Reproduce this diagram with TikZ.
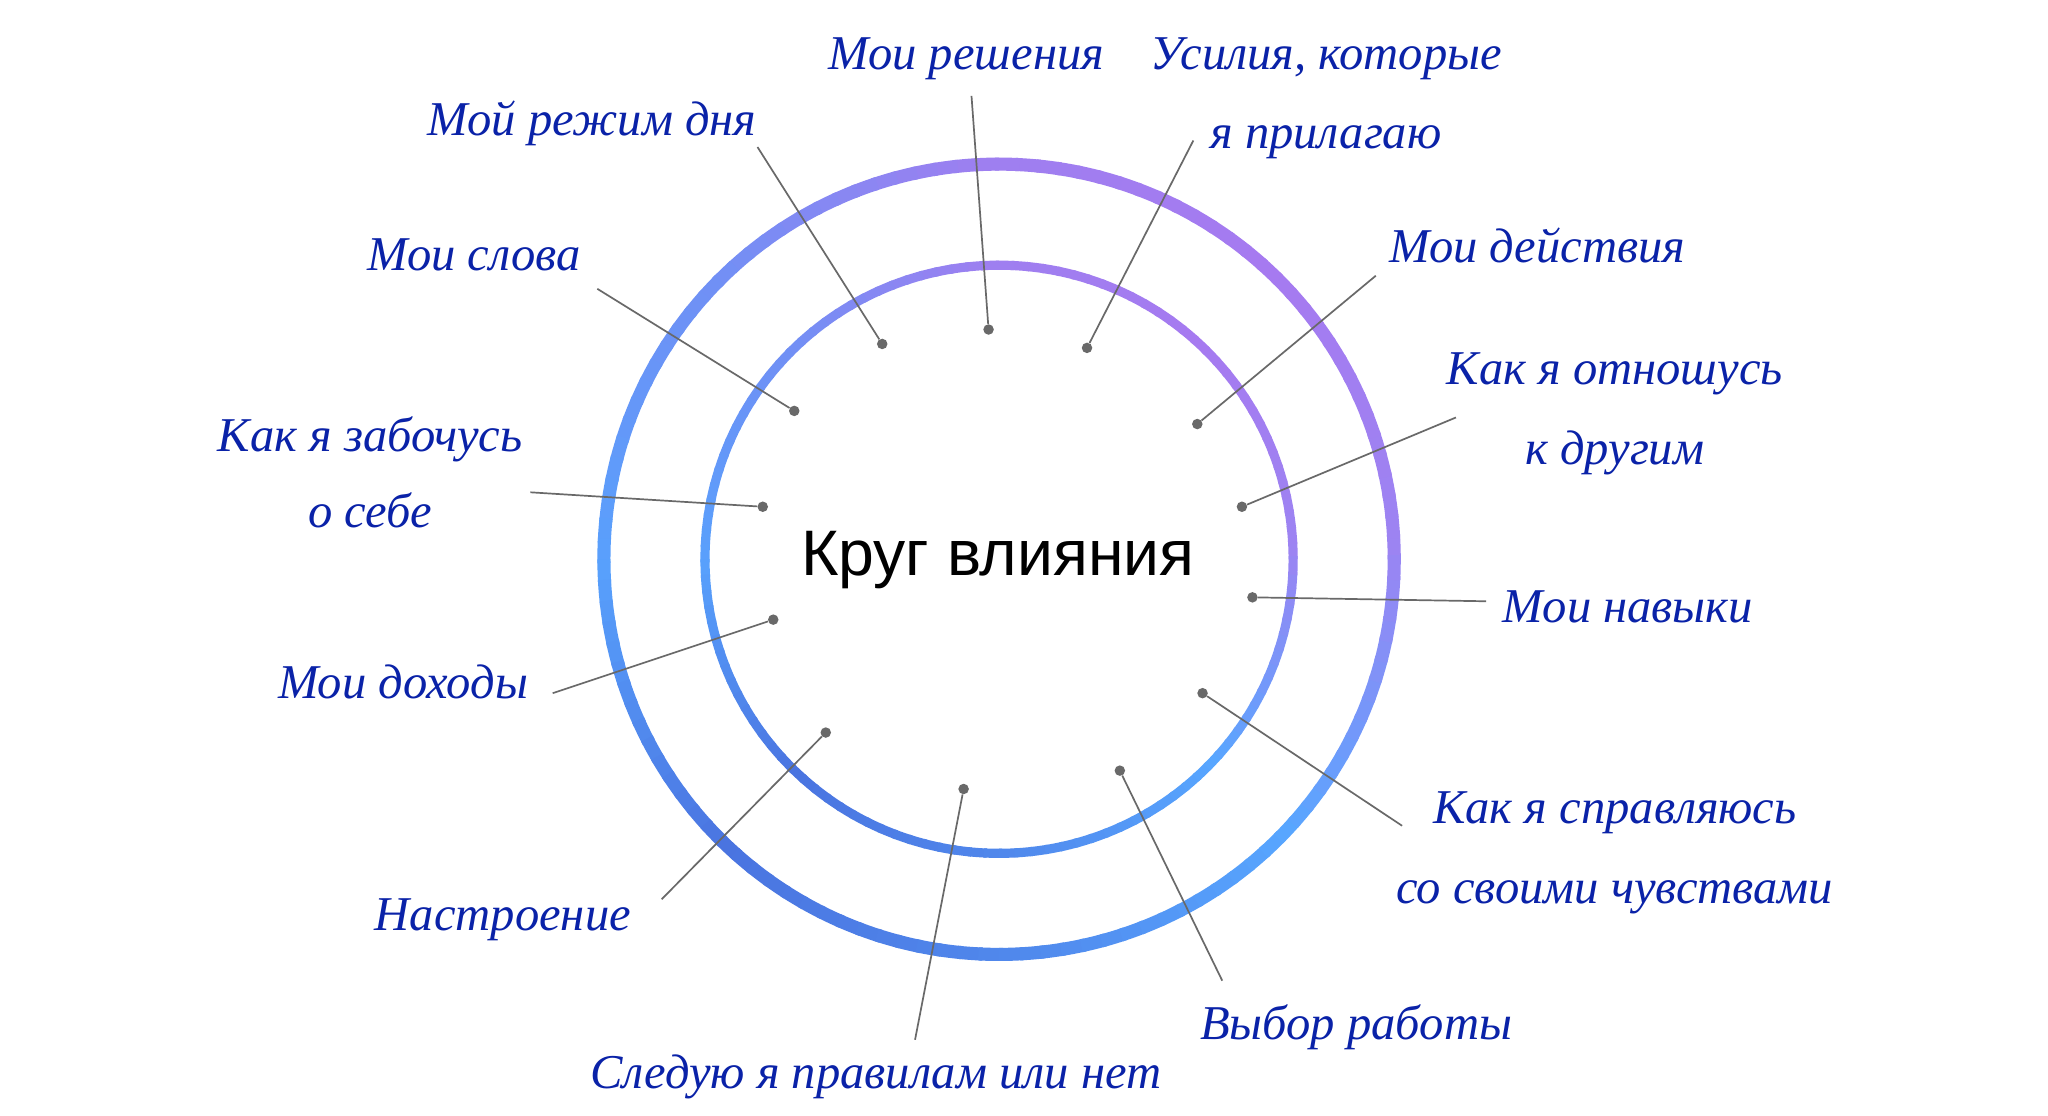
\documentclass[tikz,border=0pt]{standalone}
\usepackage{fontspec}
\newfontfamily\handfont{Liberation Serif}
\newfontfamily\titlefont{Liberation Sans}
\definecolor{lblc}{RGB}{10,34,168}
\definecolor{conn}{RGB}{105,105,105}
\definecolor{c0}{RGB}{156,132,242}
\definecolor{c45}{RGB}{166,122,240}
\definecolor{c90}{RGB}{158,127,240}
\definecolor{c135}{RGB}{112,144,245}
\definecolor{c180}{RGB}{88,160,252}
\definecolor{c225}{RGB}{74,116,224}
\definecolor{c270}{RGB}{80,136,236}
\definecolor{c315}{RGB}{88,166,255}
\tikzset{
  lbl/.style={font=\handfont\itshape\fontsize{37}{40}\selectfont, text=lblc, inner sep=0pt, anchor=base},
  connline/.style={draw=conn, line width=1.3pt},
  dotnode/.style={circle, fill=conn, inner sep=0pt, minimum size=8pt},
}
\begin{document}
\begin{tikzpicture}[x=1pt,y=-1pt]
\useasboundingbox (0,0) rectangle (1560,850);
\fill[white] (0,0) rectangle (1560,850);
\coordinate (C) at (761,426);
% gradient rings
\foreach \pa/\ca/\cb in {0/c0/c45,45/c45/c90,90/c90/c135,135/c135/c180,180/c180/c225,225/c225/c270,270/c270/c315,315/c315/c0}{
  \foreach \k in {0,...,14}{
    \pgfmathtruncatemacro\mixp{\k*100/15}
    \pgfmathsetmacro\ang{\pa+\k*3}
    \draw[line width=10pt, draw=\cb!\mixp!\ca] (C) ++({-\ang}:301) arc[start angle={-\ang}, end angle={-\ang-3.6}, radius=301];
    \draw[line width=7pt, draw=\cb!\mixp!\ca] (C) ++({-\ang}:224) arc[start angle={-\ang}, end angle={-\ang-3.6}, radius=224];
  }
}
\node[font=\titlefont\fontsize{49}{52}\selectfont, inner sep=0pt, anchor=base] (title) at (760,438) {Круг влияния};
% labels
\node[lbl] (t1) at (736,53) {Мои решения};
\node[lbl] (t2a) at (1010,53) {Усилия, которые};
\node[lbl] (t2b) at (1010,113) {я прилагаю};
\node[lbl] (t3) at (451,103) {Мой режим дня};
\node[lbl] (t4) at (361,206) {Мои слова};
\node[lbl] (t5a) at (282,344) {Как я забочусь};
\node[lbl] (t5b) at (282,402) {о себе};
\node[lbl] (t6) at (307,532) {Мои доходы};
\node[lbl] (t7) at (383,709) {Настроение};
\node[lbl] (t8) at (667,829) {Следую я правилам или нет};
\node[lbl] (t9) at (1033,792) {Выбор работы};
\node[lbl] (t10a) at (1230,627) {Как я справляюсь};
\node[lbl] (t10b) at (1230,688) {со своими чувствами};
\node[lbl] (t11) at (1240,474) {Мои навыки};
\node[lbl] (t12a) at (1230,293) {Как я отношусь};
\node[lbl] (t12b) at (1230,354) {к другим};
\node[lbl] (t13) at (1171,200) {Мои действия};
% connector ends
\coordinate (e1) at (740,73);
\coordinate (e2) at (909,107);
\coordinate (e3) at (577,112);
\coordinate (e4) at (455,220);
\coordinate (e5) at (404,375);
\coordinate (e6) at (421,528);
\coordinate (e7) at (504,685);
\coordinate (e8) at (697,792);
\coordinate (e9) at (931,747);
\coordinate (e10) at (1068,629);
\coordinate (e11) at (1132,458);
\coordinate (e12) at (1109,318);
\coordinate (e13) at (1048,210);
% dots
\node[dotnode] (d1) at (753,251) {};
\node[dotnode] (d2) at (828,265) {};
\node[dotnode] (d3) at (672,262) {};
\node[dotnode] (d4) at (605,313) {};
\node[dotnode] (d5) at (581,386) {};
\node[dotnode] (d6) at (589,472) {};
\node[dotnode] (d7) at (629,558) {};
\node[dotnode] (d8) at (734,601) {};
\node[dotnode] (d9) at (853,587) {};
\node[dotnode] (d10) at (916,528) {};
\node[dotnode] (d11) at (954,455) {};
\node[dotnode] (d12) at (946,386) {};
\node[dotnode] (d13) at (912,323) {};
\foreach \i in {1,...,13}{\draw[connline] (e\i) -- (d\i);}
\end{tikzpicture}
\end{document}
